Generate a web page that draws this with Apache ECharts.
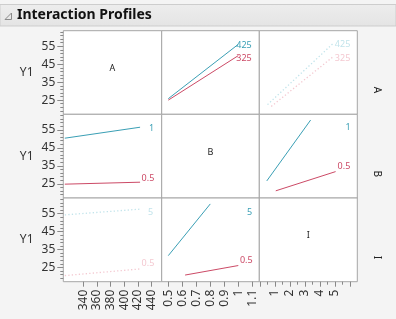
<!DOCTYPE html>
<html>
<head>
<meta charset="utf-8">
<script src="https://cdn.jsdelivr.net/npm/echarts@6/dist/echarts.min.js"></script>
<style>
  html, body { margin: 0; padding: 0; background: #f4f4f4; }
  #chart { width: 396px; height: 319px; }
</style>
</head>
<body>
<div id="chart"></div>
<script>
// factor names (rows / columns of the matrix)
const factors = ["A", "B", "I"];

// axis ranges + ticks
const yRange = [17.1, 63.7];
const yTicks = [25, 35, 45, 55];
const yMinorTicks = [19, 21, 23, 27, 29, 31, 33, 37, 39, 41, 43, 47, 49, 51, 53, 57, 59, 61, 63];
const aRange = [310.8, 454.6];
const aTicks = [340, 360, 380, 400, 420, 440];
const bRange = [0.453, 1.15];
const bTicks = [0.5, 0.6, 0.7, 0.8, 0.9, 1, 1.1];
const iRange = [-0.05, 6.5];
const iTicks = [0, 1, 2, 3, 4, 5, 6];
const iLabels = [1, 2, 3, 4, 5];
const iMinorTicks = [0.5, 1.5, 2.5, 3.5, 4.5, 5.5];

// traces: [x, Y1]
// row A, col B  (A = 425 / 325)
const abHigh = [[0.5, 25.8], [1.0, 56.1]];
const abLow = [[0.5, 25.0], [1.0, 49.8]];
// row A, col I  (dotted)
const aiHigh = [[0.5, 22.5], [4.9, 56.7]];
const aiLow = [[0.75, 21.5], [4.9, 49.3]];
// row B, col A  (B = 1 / 0.5)
const baHigh = [[313, 50.4], [423, 56.5]];
const baLow = [[313, 24.8], [423, 25.9]];
// row B, col I
const biHigh = [[0.45, 26.6], [3.38, 60.5]];
const biLow = [[1.05, 21.1], [5.05, 31.8]];
// row I, col A  (dotted, I = 5 / 0.5)
const iaHigh = [[313, 54.3], [423, 57.5]];
const iaLow = [[313, 20.5], [423, 24.2]];
// row I, col B
const ibHigh = [[0.5, 31.6], [0.8, 60.4]];
const ibLow = [[0.62, 20.8], [1.0, 26.1]];

const TEAL = "#3a9fb5", RED = "#cc4a66";
const TEAL_L = "#c2e4eb", RED_L = "#f4c9d1";
const FONT = "Noto Sans";

const colLeft = [63.3, 161.7, 259.3, 357.3];
const rowTop = [30.7, 114.3, 198.0, 281.7];
const xRanges = [aRange, bRange, iRange];
const xTicks = [aTicks, bTicks, iTicks];
const xLabels = [aTicks, bTicks, iLabels];

const chart = echarts.init(document.getElementById("chart"));

const grids = [], xAxes = [], yAxes = [];
for (let r = 0; r < 3; r++) {
  for (let c = 0; c < 3; c++) {
    grids.push({
      left: colLeft[c], top: rowTop[r],
      width: colLeft[c + 1] - colLeft[c], height: rowTop[r + 1] - rowTop[r],
      show: true, backgroundColor: "#fff", borderColor: "#a6a6a6", borderWidth: 1
    });
    const g = grids.length - 1;
    const bottom = r === 2;
    xAxes.push({
      type: "value", gridIndex: g, min: xRanges[c][0], max: xRanges[c][1],
      show: bottom, position: "bottom",
      axisLine: { show: false }, splitLine: { show: false },
      axisTick: { show: true, customValues: xTicks[c], length: 5, lineStyle: { color: "#888" } },
      axisLabel: { customValues: xLabels[c], rotate: 90, margin: 8, color: "#333",
                   fontSize: 12, fontFamily: FONT }
    });
    yAxes.push({
      type: "value", gridIndex: g, min: yRange[0], max: yRange[1],
      show: c === 0, position: "left",
      axisLine: { show: false }, splitLine: { show: false },
      axisTick: { show: true, customValues: yTicks, length: 6, lineStyle: { color: "#888" } },
      axisLabel: { customValues: yTicks, margin: 8, color: "#333", fontSize: 12, fontFamily: FONT }
    });
  }
}
// minor ticks (extra axes without labels)
for (let r = 0; r < 3; r++) {
  yAxes.push({
    type: "value", gridIndex: r * 3, min: yRange[0], max: yRange[1], position: "left",
    axisLine: { show: false }, splitLine: { show: false },
    axisTick: { show: true, customValues: yMinorTicks, length: 3, lineStyle: { color: "#888" } },
    axisLabel: { show: false }
  });
}
xAxes.push({
  type: "value", gridIndex: 8, min: iRange[0], max: iRange[1], position: "bottom",
  axisLine: { show: false }, splitLine: { show: false },
  axisTick: { show: true, customValues: iMinorTicks, length: 3, lineStyle: { color: "#888" } },
  axisLabel: { show: false }
});

function trace(grid, data, name, color, dotted, offset) {
  return {
    type: "line", xAxisIndex: grid, yAxisIndex: grid, data: data, name: name,
    symbol: "none", silent: true, animation: false,
    lineStyle: dotted
      ? { color: color, width: 1.3, type: [1.3, 2.2] }
      : { color: color, width: 1, type: "solid" },
    endLabel: {
      show: true, formatter: name, color: color, fontSize: 9, fontFamily: FONT,
      distance: 0, offset: offset
    }
  };
}

const series = [
  trace(1, abHigh, "425", TEAL, false, [-2, 1]),
  trace(1, abLow, "325", RED, false, [-2, 3]),
  trace(2, aiHigh, "425", TEAL_L, true, [1.5, 1]),
  trace(2, aiLow, "325", RED_L, true, [1.5, 1.6]),
  trace(3, baHigh, "1", TEAL, false, [9, 1.4]),
  trace(3, baLow, "0.5", RED, false, [1.5, -3.6]),
  trace(5, biHigh, "1", TEAL, false, [35, 7]),
  trace(5, biLow, "0.5", RED, false, [2, -5]),
  trace(6, iaHigh, "5", TEAL_L, true, [8, 3.7]),
  trace(6, iaLow, "0.5", RED_L, true, [1.5, -6]),
  trace(7, ibHigh, "5", TEAL, false, [36.7, 8.7]),
  trace(7, ibLow, "0.5", RED, false, [1.6, -5.3])
];

const graphics = [
  { type: "rect", shape: { x: 0, y: 4.5, width: 396, height: 21.5 },
    style: { fill: new echarts.graphic.LinearGradient(0, 0, 0, 1,
      [{ offset: 0, color: "#ededed" }, { offset: 1, color: "#e4e4e4" }]),
      stroke: "#cdcdcd", lineWidth: 1 } },
  { type: "polyline", shape: { points: [[5, 19.5], [11.5, 19.5], [11.5, 13], [5, 19.5]] },
    style: { stroke: "#8a8a8a", fill: null, lineWidth: 1 } },
  { type: "text", x: 17, y: 15.5,
    style: { text: "Interaction Profiles", font: "bold 14px '" + FONT + "'", fill: "#111",
             verticalAlign: "middle" } }
];
for (let k = 0; k < 3; k++) {
  const cy = (rowTop[k] + rowTop[k + 1]) / 2;
  const cx = (colLeft[k] + colLeft[k + 1]) / 2;
  graphics.push({ type: "text", x: 26.7, y: cy, style: { text: "Y1", font: "12px '" + FONT + "'",
    fill: "#333", align: "center", verticalAlign: "middle" } });
  graphics.push({ type: "text", x: cx, y: cy - 4, style: { text: factors[k], font: "9px '" + FONT + "'",
    fill: "#222", align: "center", verticalAlign: "middle" } });
  graphics.push({ type: "text", x: 376.7, y: cy + 17.5, rotation: -Math.PI / 2,
    style: { text: factors[k], font: "10px '" + FONT + "'", fill: "#222",
             align: "center", verticalAlign: "middle" } });
}

chart.setOption({
  backgroundColor: "#f4f4f4",
  animation: false,
  grid: grids,
  xAxis: xAxes,
  yAxis: yAxes,
  series: series,
  graphic: graphics
});
</script>
</body>
</html>
